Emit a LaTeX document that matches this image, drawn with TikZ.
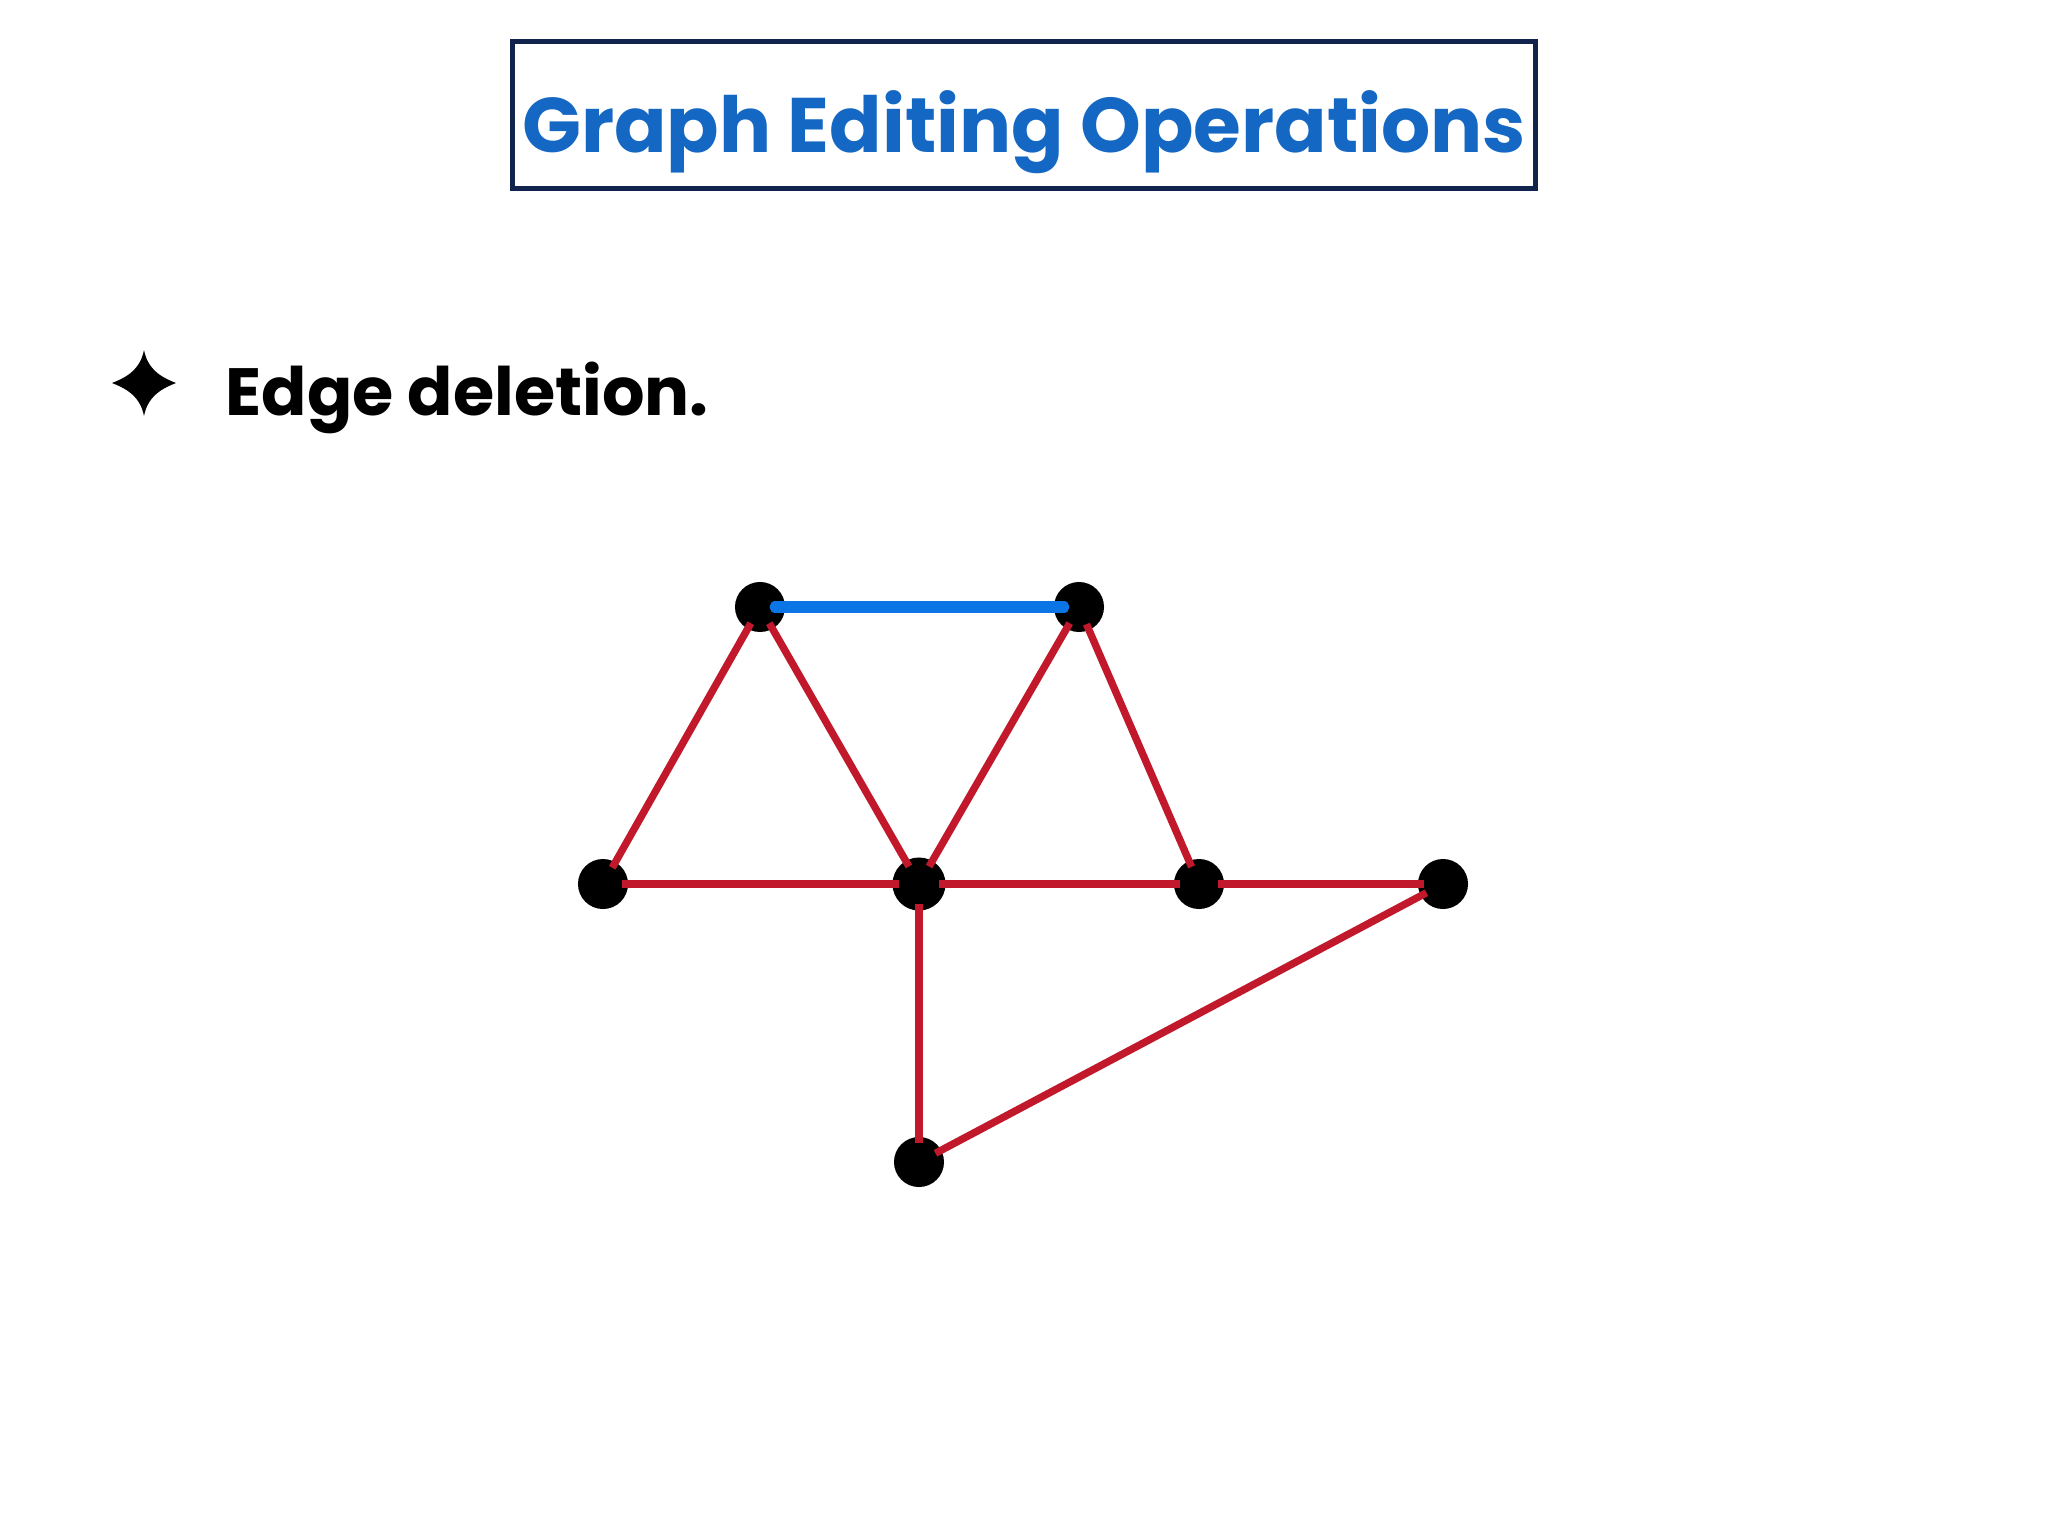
\documentclass[tikz,border=0pt]{standalone}
\usepackage{fontspec}
\setmainfont{Poppins}
\definecolor{edgered}{HTML}{C1192B}
\definecolor{edgeblue}{HTML}{0B75E6}
\definecolor{titleblue}{HTML}{1467C2}
\definecolor{boxnavy}{HTML}{10244D}
\tikzset{
  vertex/.style={circle, fill=black, inner sep=0pt, minimum size=0.5cm},
  redline/.style={draw=edgered, line width=2.1pt, shorten <=-2pt, shorten >=-2pt},
  blueline/.style={draw=edgeblue, line width=3.2pt, line cap=round, shorten <=-3pt, shorten >=-3pt},
}
\begin{document}
\begin{tikzpicture}[x=0.01cm, y=-0.01cm]
\useasboundingbox (0,0) rectangle (2048,1536);
% title
\node[draw=boxnavy, line width=1.4pt, minimum width=10.22cm, minimum height=1.46cm] (titlebox) at (1024,115) {};
\node[anchor=base, inner sep=0pt, text=titleblue, font=\bfseries\fontsize{22}{26}\selectfont] (title) at (1024,152) {Graph Editing Operations};
% bullet
\path (144,383) coordinate (star);
\fill (star) ++(0,-33) .. controls +(4,22) and +(-10,-4) .. ++(32,33)
  .. controls +(-10,4) and +(4,-22) .. ++(-32,33)
  .. controls +(-4,-22) and +(10,4) .. ++(-32,-33)
  .. controls +(10,-4) and +(-4,22) .. cycle;
\node[anchor=base west, inner sep=0pt, font=\bfseries\fontsize{19}{23}\selectfont] (item) at (225,415) {Edge deletion.};
% graph
\node[vertex] (a) at (760,607) {};
\node[vertex] (b) at (1079,607) {};
\node[vertex] (c) at (603,884) {};
\node[vertex, minimum size=0.53cm] (d) at (919,884) {};
\node[vertex] (e) at (1199,884) {};
\node[vertex] (f) at (1443,884) {};
\node[vertex] (g) at (919,1162) {};
\draw[redline] (a) -- (c);
\draw[redline] (a) -- (d);
\draw[redline] (b) -- (d);
\draw[redline] (b) -- (e);
\draw[redline] (c) -- (d);
\draw[redline] (d) -- (e);
\draw[redline] (e) -- (f);
\draw[redline] (d) -- (g);
\draw[redline] (g) -- (f);
\draw[blueline] (a) -- (b);
\end{tikzpicture}
\end{document}
